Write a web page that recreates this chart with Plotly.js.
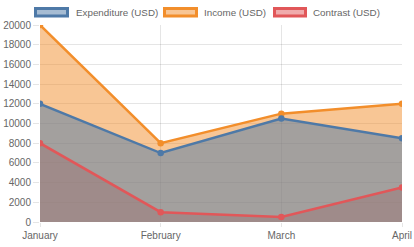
<!DOCTYPE html>
<html lang="en">
<head>
  <meta charset="UTF-8">
  <title>Expenditure vs Income</title>
  <script src="https://cdn.plot.ly/plotly-3.0.1.min.js"></script>
  <style>
    body { margin: 0; background: #fff; }
    #chart { width: 414px; height: 247px; }
  </style>
</head>
<body>
  <div id="chart"></div>
  <script>
    // data
    const months = ['January', 'February', 'March', 'April'];
    const expenditure = [12000, 7000, 10500, 8500];
    const income = [20000, 8000, 11000, 12000];
    const contrast = [8000, 1000, 500, 3500];
    const seriesNames = ['Expenditure (USD)', 'Income (USD)', 'Contrast (USD)'];
    const yTicks = [0, 2000, 4000, 6000, 8000, 10000, 12000, 14000, 16000, 18000, 20000];

    const colors = ['#4e79a7', '#f28e2b', '#e15759'];
    const fills = ['rgba(78,121,167,0.5)', 'rgba(242,142,43,0.5)', 'rgba(225,87,89,0.5)'];
    const values = [expenditure, income, contrast];

    // plot area in pixels
    const W = 414, H = 247;
    const m = { l: 40, r: 12, t: 25, b: 25 };
    const pw = W - m.l - m.r, ph = H - m.t - m.b;
    const px = x => (x - m.l) / pw;
    const py = y => (H - m.b - y) / ph;

    // chart.js paints all fills first (last dataset first), then the lines on top
    const order = [2, 1, 0];
    const fillTraces = order.map(i => ({
      x: months,
      y: values[i],
      type: 'scatter',
      mode: 'none',
      fill: 'tozeroy',
      fillcolor: fills[i],
      showlegend: false,
      hoverinfo: 'skip'
    }));
    const lineTraces = order.map(i => ({
      x: months,
      y: values[i],
      name: seriesNames[i],
      type: 'scatter',
      mode: 'lines+markers',
      line: { color: colors[i], width: 2.5 },
      marker: { color: colors[i], size: 6.5 },
      showlegend: false,
      hoverinfo: 'skip'
    }));

    // hand-drawn legend, chart.js style boxes
    const legendBoxes = [[34, 69, 74], [163, 198, 202], [273, 307, 311]];
    const shapes = [], annotations = [];
    legendBoxes.forEach((b, i) => {
      shapes.push({
        type: 'rect', xref: 'paper', yref: 'paper',
        x0: px(b[0] + 1.5), x1: px(b[1] - 1.5), y0: py(8.5), y1: py(16),
        fillcolor: fills[i], line: { color: colors[i], width: 3 }
      });
      annotations.push({
        xref: 'paper', yref: 'paper', x: px(b[2]), y: py(12.5),
        xanchor: 'left', yanchor: 'middle', showarrow: false,
        text: seriesNames[i], font: { size: 9.8, color: '#666' }
      });
    });

    const layout = {
      width: W, height: H,
      margin: m,
      paper_bgcolor: '#fff', plot_bgcolor: '#fff',
      font: { family: '"Liberation Sans", Arial, sans-serif', size: 10, color: '#666' },
      showlegend: false,
      xaxis: {
        type: 'category',
        range: [0, months.length - 1],
        showgrid: true, gridcolor: 'rgba(0,0,0,0.1)',
        zeroline: false, showline: false,
        ticks: 'outside', ticklen: 4, tickcolor: 'rgba(0,0,0,0.1)',
        tickfont: { size: 10, color: '#666' }
      },
      yaxis: {
        range: [0, 20000],
        tickvals: yTicks,
        ticktext: yTicks.map(String),
        showgrid: true, gridcolor: 'rgba(0,0,0,0.1)',
        zeroline: false, showline: false,
        ticks: 'outside', ticklen: 6, tickcolor: 'rgba(0,0,0,0.1)',
        tickfont: { size: 10, color: '#666' }
      },
      shapes: shapes,
      annotations: annotations
    };

    Plotly.newPlot('chart', fillTraces.concat(lineTraces), layout, { displayModeBar: false, staticPlot: true });
  </script>
</body>
</html>
